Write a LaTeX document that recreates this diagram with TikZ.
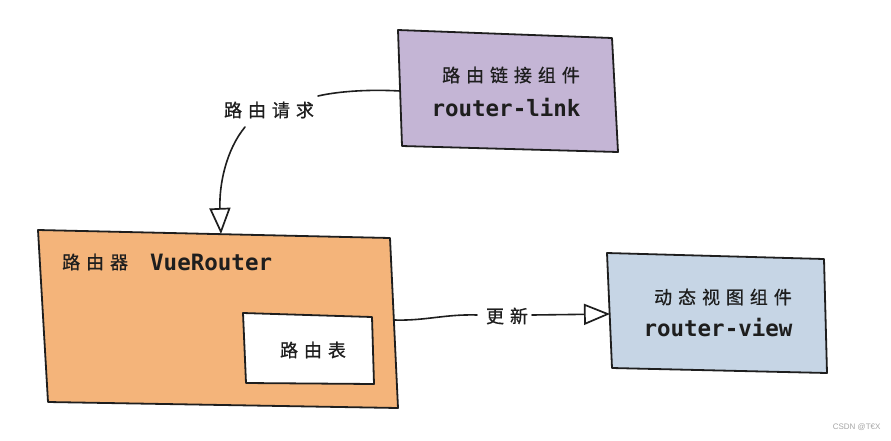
\documentclass[tikz,border=0pt]{standalone}
\usepackage{fontspec}
\setmainfont{Liberation Sans}
\newfontfamily\cjk[LetterSpace=33, FakeBold=0.8]{Noto Sans CJK SC}
\newfontfamily\codefont{DejaVu Sans Mono Bold}
\usetikzlibrary{arrows.meta}
\definecolor{linkfill}{RGB}{196,181,213}
\definecolor{routerfill}{RGB}{244,180,122}
\definecolor{viewfill}{RGB}{198,213,229}
\definecolor{ink}{RGB}{30,30,30}
\tikzset{
  sketch/.style={draw=ink, line width=1.8pt, line join=round, line cap=round},
  wire/.style={draw=ink, line width=1.6pt, line cap=round},
  opentip/.style={-{Triangle[open, length=26pt, width=21pt, line width=1.7pt, fill=white]}},
  cjktext/.style={text=ink, font=\cjk\fontsize{18}{21}\selectfont, inner sep=2pt},
  codetext/.style={text=ink, font=\codefont\fontsize{22.5}{26}\selectfont, inner sep=0pt},
  lbl/.style={text=ink, font=\cjk\fontsize{18}{21}\selectfont, inner sep=3pt, fill=white}
}
\begin{document}
\begin{tikzpicture}[x=1pt,y=-1pt]
\useasboundingbox (0,0) rectangle (891,440);
\fill[white] (0,0) rectangle (891,440);

% router-link component
\path[sketch, fill=linkfill] (398,30) -- (612,38) -- (618,152) -- (402,146) -- cycle;
\node[cjktext] (linkcn) at (511,75) {路由链接组件};
\node[codetext] (linkcode) at (506,108) {router-link};

% VueRouter
\path[sketch, fill=routerfill] (38,230) -- (390,238) -- (398,408) -- (48,402) -- cycle;
\node[cjktext, anchor=west] (routercn) at (60,262) {路由器};
\node[codetext, anchor=west] (routercode) at (150,262) {VueRouter};

% routing table
\path[sketch, fill=white] (243,313) -- (372,317) -- (374,384) -- (246,383) -- cycle;
\node[cjktext] (table) at (313,350) {路由表};

% router-view component
\path[sketch, fill=viewfill] (607,253) -- (824,259) -- (827,373) -- (612,368) -- cycle;
\node[cjktext] (viewcn) at (723,297) {动态视图组件};
\node[codetext] (viewcode) at (718,328) {router-view};

% connector anchors on the box edges
\coordinate (linkout) at (400,91);
\coordinate (reqtip) at (221,234);
\coordinate (routerout) at (394,320);
\coordinate (viewtip) at (610,314);

% request: router-link -> VueRouter
\node[lbl] (req) at (269,110) {路由请求};
\draw[wire] (linkout) .. controls (365,89) and (335,92) .. (318,96);
\draw[wire, opentip] (245,127) .. controls (226,150) and (219,185) .. (reqtip);

% update: VueRouter -> router-view
\node[lbl] (upd) at (507,316) {更新};
\draw[wire] (routerout) .. controls (425,321) and (445,314) .. (477,315);
\draw[wire, opentip] (532,315) -- (viewtip);

\node[text=gray!70, font=\fontsize{8}{9}\selectfont, anchor=east] (mark) at (884,427) {CSDN @T€X};
\end{tikzpicture}
\end{document}
